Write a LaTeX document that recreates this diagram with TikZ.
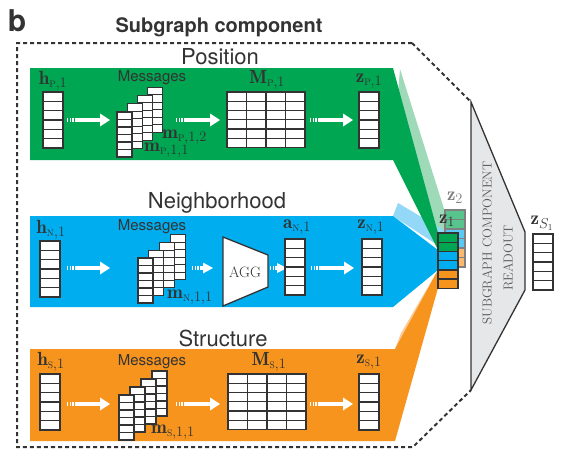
\documentclass[tikz,border=0pt]{standalone}
\usepackage{fontspec}
\usepackage{amsmath}
\newfontfamily\heros{TeX Gyre Heros}
\definecolor{dg}{HTML}{333333}
\definecolor{pg}{HTML}{00A651}
\definecolor{pgl}{HTML}{9ED9B8}
\definecolor{pb}{HTML}{00AEEF}
\definecolor{pbl}{HTML}{93D9F7}
\definecolor{po}{HTML}{F7941D}
\definecolor{pol}{HTML}{FBCB99}
\definecolor{rg}{HTML}{E6E7E8}
\newcommand\sub[1]{{\scriptscriptstyle\mathrm{#1}}}
\newcommand\cellvec[6]{%
  \foreach \i in {1,...,#5}{\draw[#6] ({#1},{#2+(\i-1)*#4}) rectangle ++(#3,#4);}}
\newcommand\msgstack[4]{%
  \foreach \k in {3,2,1,0}{\cellvec{#1+\k*#3}{#2-\k*#4}{15}{7.5}{6}{cell}}}
\newcommand\matr[2]{%
  \foreach \r in {0,...,5}{\foreach \c in {0,...,3}{\draw[cell] ({#1+\c*19.5},{#2+\r*9.25}) rectangle ++(19.5,9.25);}}}
\newcommand\warrow[4]{%
  \fill[white] ({#1},{#3-2.2}) rectangle ++(1.3,4.4);
  \fill[white] ({#1+2.6},{#3-2.2}) rectangle ++(1.4,4.4);
  \fill[white] ({#1+5.2},{#3-2.2}) rectangle ++(1.6,4.4);
  \fill[white] ({#1+7.8},{#3-2.2}) rectangle ({#2-9},{#3+2.2});
  \fill[white] ({#2-10},{#3-#4}) -- ({#2},{#3}) -- ({#2-10},{#3+#4}) -- cycle;}
\tikzset{
  cell/.style={draw=dg, fill=white, line width=1.1pt},
  border/.style={draw=dg, line width=2pt, dash pattern=on 4pt off 3pt},
  ptitle/.style={font=\heros\fontsize{22}{24}\selectfont, text=dg, inner sep=0},
  msg/.style={font=\heros\fontsize{15}{17}\selectfont, text=dg, inner sep=0},
  lab/.style={font=\fontsize{19}{21}\selectfont, text=dg, inner sep=0},
  rotxt/.style={font=\fontsize{13}{15}\selectfont, text=black!65, rotate=90, inner sep=0},
}
\begin{document}
\begin{tikzpicture}[x=1pt,y=-1pt]
\useasboundingbox (0,0) rectangle (572,455);
% header
\node[font=\heros\bfseries\fontsize{30}{32}\selectfont, text=dg, inner sep=0] (b) at (17,21) {b};
\node[font=\heros\bfseries\fontsize{20}{22}\selectfont, text=dg, inner sep=0] (title) at (219,27) {Subgraph component};
% dashed border
\draw[border] (412,43) -- (17,43) -- (17,447) -- (413,447) -- (471,390);
\draw[border] (412,43) -- (471,102);
% light wedges
\fill[pgl] (400,69) -- (445,212) -- (445,240) -- (393,159) -- cycle;
\fill[pbl] (398,203) -- (445,231) -- (445,250) -- (393,216) -- cycle;
\fill[pol] (395,349) -- (401,333) -- (445,258) -- (445,267) -- cycle;
% panels with wedges
\fill[pg] (30,68) -- (393,68) -- (438,233) -- (438,250) -- (393,160) -- (30,160) -- cycle;
\fill[pb] (30,216) -- (393,216) -- (438,250) -- (438,270) -- (393,307) -- (30,307) -- cycle;
\fill[po] (30,349) -- (395,349) -- (438,270) -- (438,288) -- (395,441) -- (30,441) -- cycle;
% readout
\draw[dg, fill=rg, line width=1.3pt] (471,102) -- (525,232) -- (525,290) -- (471,390) -- cycle;
\node[rotxt] (ro1) at (487,243) {SUBGRAPH COMPONENT};
\node[rotxt] (ro2) at (508,258) {READOUT};
\node[lab] (zs) at (542,223) {$\mathbf{z}_{S_1}$};
\cellvec{533}{234}{20}{9.33}{6}{cell}
% z2 and z1
\foreach \c [count=\i] in {pg,pg,pb,pb,po,po}{\draw[line width=1.1pt, draw=black!50, fill=\c!65] (445,{210+(\i-1)*9.5}) rectangle ++(20,9.5);}
\node[lab, text=black!50] (z2) at (455,198) {$\mathbf{z}_2$};
\foreach \c [count=\i] in {pg,pg,pb,pb,po,po}{\draw[line width=1.4pt, draw=dg, fill=\c] (438,{233+(\i-1)*9.2}) rectangle ++(20,9.2);}
\node[lab] (z1) at (447,221) {$\mathbf{z}_1$};
% ---------- Position ----------
\node[ptitle] (tp) at (220,57) {Position};
\node[lab] (hp) at (53,81) {$\mathbf{h}_{\sub{P},1}$};
\cellvec{43}{92}{20}{9.33}{6}{cell}
\warrow{67}{110}{120}{6.5}
\node[msg] (mp) at (152,78) {Messages};
\msgstack{117}{112}{10.3}{8.3}
\node[lab, anchor=west] (mp12) at (162,137) {$\mathbf{m}_{\sub{P},1,2}$};
\node[lab, anchor=west] (mp11) at (144,150) {$\mathbf{m}_{\sub{P},1,1}$};
\warrow{176}{220}{120}{6.5}
\node[lab] (Mp) at (267,80) {$\mathbf{M}_{\sub{P},1}$};
\matr{227}{92}
\warrow{310}{353}{120}{6.5}
\node[lab] (zp) at (369,81) {$\mathbf{z}_{\sub{P},1}$};
\cellvec{359}{92}{20}{9.33}{6}{cell}
% ---------- Neighborhood ----------
\node[ptitle] (tn) at (217,203) {Neighborhood};
\node[lab] (hn) at (51,230) {$\mathbf{h}_{\sub{N},1}$};
\cellvec{40}{241}{20}{9.33}{6}{cell}
\warrow{67}{110}{268}{6.5}
\node[msg] (mn) at (152,227) {Messages};
\msgstack{138}{258}{10.7}{7.7}
\node[lab, anchor=west] (mn11) at (167,297) {$\mathbf{m}_{\sub{N},1,1}$};
\warrow{192}{213}{268}{5.5}
\draw[dg, fill=white, line width=1.3pt] (223,237) -- (268,255) -- (268,287) -- (223,306) -- cycle;
\node[font=\fontsize{15}{17}\selectfont, text=dg, inner sep=0] (agg) at (245,272) {AGG};
\warrow{270}{287}{268}{5}
\node[lab] (an) at (297,227) {$\mathbf{a}_{\sub{N},1}$};
\cellvec{285}{239}{20}{9.33}{6}{cell}
\warrow{311}{354}{268}{6.5}
\node[lab] (zn) at (371,227) {$\mathbf{z}_{\sub{N},1}$};
\cellvec{362}{239}{20}{9.33}{6}{cell}
% ---------- Structure ----------
\node[ptitle] (ts) at (223,338) {Structure};
\node[lab] (hs) at (51,362) {$\mathbf{h}_{\sub{S},1}$};
\cellvec{40}{374}{20}{9.33}{6}{cell}
\warrow{67}{110}{404}{6.5}
\node[msg] (ms) at (152,362) {Messages};
\msgstack{119}{395}{11}{8}
\node[lab, anchor=west] (ms11) at (151,432) {$\mathbf{m}_{\sub{S},1,1}$};
\warrow{176}{220}{404}{6.5}
\node[lab] (Ms) at (269,362) {$\mathbf{M}_{\sub{S},1}$};
\matr{228}{374}
\warrow{310}{353}{404}{6.5}
\node[lab] (zs1) at (369,362) {$\mathbf{z}_{\sub{S},1}$};
\cellvec{359}{374}{20}{9.33}{6}{cell}
\end{tikzpicture}
\end{document}
